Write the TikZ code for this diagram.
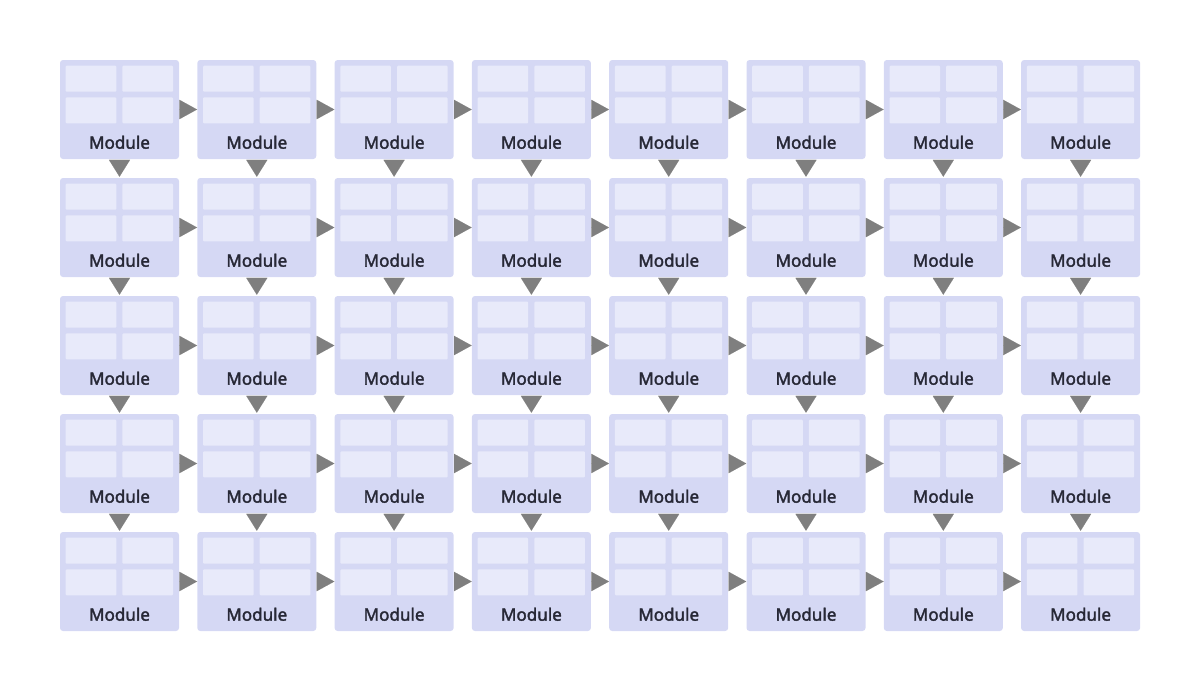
\documentclass[tikz,border=0pt]{standalone}
\usepackage{fontspec}
\setmainfont{Noto Sans}
\newfontfamily\labelfont[FakeBold=2]{Noto Sans}
\usetikzlibrary{arrows.meta, positioning}

\definecolor{modfill}{HTML}{D5D8F4}
\definecolor{cellfill}{HTML}{E8EAFA}
\definecolor{arrowgray}{HTML}{7F7F7F}
\definecolor{labelink}{HTML}{272836}

\tikzset{
	module/.style={fill=modfill, rounded corners=2.25pt, minimum width=89.25pt, minimum height=74.25pt, inner sep=0pt},
	cell/.style={fill=cellfill, rounded corners=0.75pt},
	modlabel/.style={font=\labelfont\fontsize{12.8pt}{14pt}\selectfont, text=labelink, inner sep=0pt},
	flowright/.style={-{Triangle[length=13.2pt,width=14.5pt]}, arrowgray, line width=0.01pt, shorten <=0.2pt},
	flowdown/.style={-{Triangle[length=12.6pt,width=15.75pt]}, arrowgray, line width=0.01pt, shorten <=0.75pt, shorten >=0.75pt},
}

\begin{document}
\begin{tikzpicture}[x=0.75pt, y=0.75pt]
	\useasboundingbox (0,0) rectangle (1200,-696);
	% modules, 5 rows by 8 columns
	\foreach \r in {1,...,5}
		\foreach \c in {1,...,8} {
			\node[module] (m-\r-\c) at ({119.5+137.3*(\c-1)}, {-109.5-118*(\r-1)}) {};
			\foreach \dx in {6,62.7}
				\foreach \dy in {6,37.7}
					\fill[cell] ([shift={(\dx,-\dy)}]m-\r-\c.north west) rectangle ++(50.6,-26);
			\node[modlabel] (t-\r-\c) at ([yshift=12.75pt]m-\r-\c.south) {Module};
		}
	% arrows along each row
	\foreach \r in {1,...,5}
		\foreach \c in {1,...,7} {
			\pgfmathtruncatemacro{\cn}{\c+1}
			\draw[flowright] (m-\r-\c.east) -- (m-\r-\cn.west);
		}
	% arrows down each column
	\foreach \r in {1,...,4}
		\foreach \c in {1,...,8} {
			\pgfmathtruncatemacro{\rn}{\r+1}
			\draw[flowdown] (m-\r-\c.south) -- (m-\rn-\c.north);
		}
\end{tikzpicture}
\end{document}
